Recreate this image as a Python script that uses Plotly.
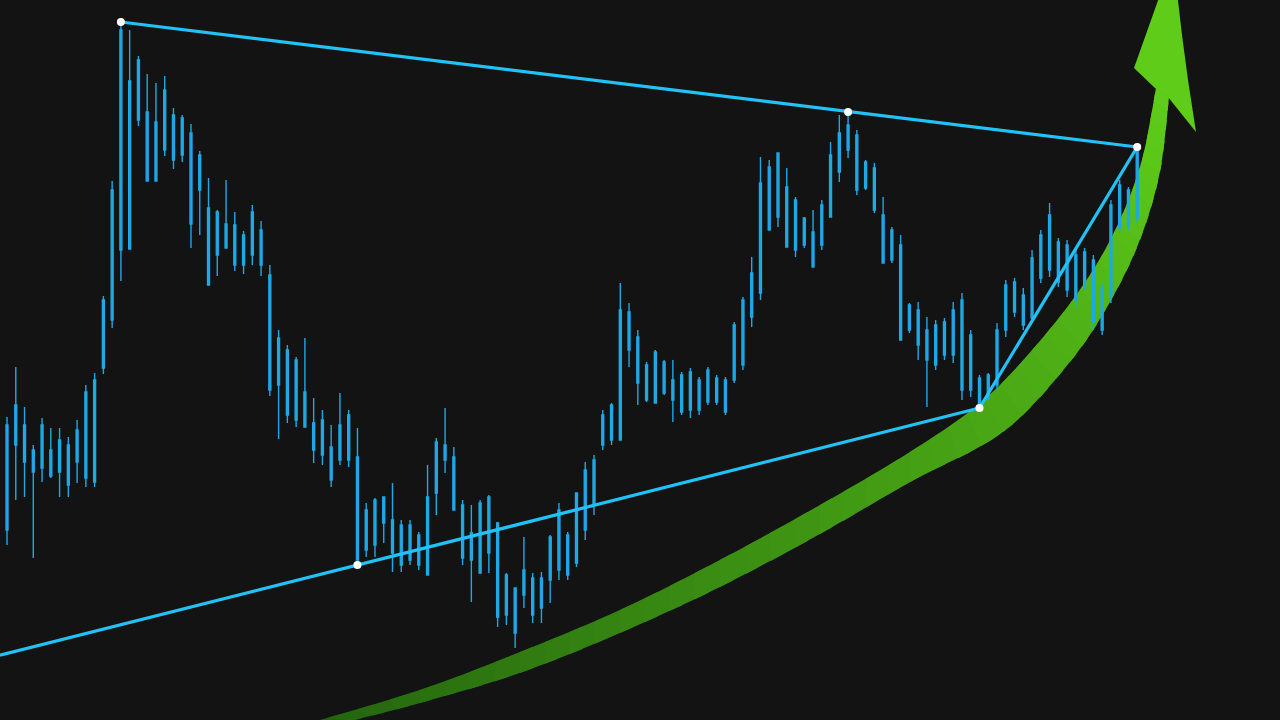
import numpy as np
import plotly.graph_objects as go

# ---------------- data (price levels) ----------------
high = [303, 353, 313, 275, 302, 292, 292, 283, 300, 335, 347, 424, 539, 698, 690, 664, 646, 637, 644, 612,
        605, 596, 569, 542, 510, 540, 508, 489, 515, 499, 455, 390, 375, 363, 382, 322, 310, 295, 327, 310,
        292, 217, 222, 223, 237, 200, 200, 188, 255, 282, 312, 273, 220, 215, 220, 225, 198, 147, 132, 183,
        147, 148, 185, 217, 188, 227, 258, 265, 310, 317, 437, 417, 390, 358, 370, 360, 360, 348, 352, 343,
        353, 345, 343, 398, 423, 463, 563, 560, 567, 552, 523, 503, 510, 520, 578, 605, 608, 590, 560, 557,
        523, 493, 485, 417, 418, 403, 400, 402, 418, 427, 390, 345, 347, 397, 440, 442, 432, 470, 490, 517,
        482, 480, 470, 472, 465, 437, 520, 540, 533, 573]
low = [175, 220, 223, 162, 238, 242, 223, 223, 237, 233, 233, 346, 392, 439, 471, 594, 539, 539, 564, 551,
       558, 472, 485, 435, 444, 472, 449, 446, 455, 444, 324, 281, 297, 293, 293, 257, 255, 233, 255, 253,
       155, 163, 163, 177, 148, 148, 155, 150, 145, 205, 247, 210, 155, 118, 147, 147, 93, 95, 72, 112,
       97, 97, 117, 140, 140, 153, 180, 205, 270, 275, 280, 353, 315, 318, 317, 325, 298, 305, 302, 305,
       315, 315, 305, 337, 350, 393, 420, 490, 493, 473, 463, 472, 453, 470, 503, 538, 562, 525, 530, 507,
       457, 457, 380, 387, 360, 313, 350, 360, 357, 320, 323, 312, 320, 330, 383, 403, 390, 397, 437, 443,
       433, 423, 413, 430, 390, 385, 417, 487, 490, 497]
open_ = [190, 275, 295, 270, 252, 270, 248, 275, 258, 242, 238, 352, 400, 470, 639, 600, 608, 539, 570, 605,
         565, 587, 530, 512, 465, 496, 455, 485, 465, 490, 445, 335, 370, 300, 328, 270, 300, 240, 260, 305,
         263, 170, 175, 223, 167, 195, 160, 185, 145, 227, 260, 263, 215, 160, 147, 223, 197, 105, 132, 125,
         142, 112, 140, 150, 185, 157, 190, 215, 275, 280, 280, 408, 383, 355, 317, 358, 340, 308, 348, 310,
         318, 342, 308, 340, 355, 403, 427, 553, 503, 533, 520, 475, 488, 475, 503, 548, 570, 585, 558, 552,
         505, 490, 475, 390, 410, 390, 355, 365, 365, 420, 385, 342, 322, 335, 390, 408, 425, 402, 442, 450,
         478, 475, 465, 435, 460, 432, 425, 492, 530, 502]
close = [295, 315, 258, 248, 295, 244, 280, 235, 290, 328, 340, 420, 530, 690, 471, 660, 539, 598, 630, 560,
         602, 496, 565, 435, 508, 472, 495, 455, 508, 455, 330, 382, 305, 360, 293, 297, 265, 273, 295, 260,
         160, 210, 220, 197, 200, 155, 195, 155, 223, 278, 275, 210, 162, 187, 217, 167, 103, 145, 87, 150,
         105, 142, 183, 210, 145, 227, 250, 260, 305, 315, 410, 370, 337, 320, 368, 327, 320, 345, 310, 340,
         350, 318, 340, 395, 420, 447, 537, 490, 567, 473, 470, 502, 453, 515, 565, 587, 595, 530, 532, 510,
         457, 460, 380, 415, 375, 360, 395, 398, 410, 330, 330, 315, 345, 390, 435, 438, 395, 462, 485, 505,
         438, 430, 420, 468, 398, 390, 515, 535, 495, 570]
candle_idx = list(range(len(high)))

# pivots that the drawn trend lines join (candle numbers)
upper_pivots = [13, 96, 129]     # swing highs on the falling resistance
lower_pivots = [40, 111]         # swing lows on the rising support
breakout_pivots = [111, 129]     # low -> final high

# ---------------- styling ----------------
BG = "#131313"
CANDLE = "#1ea8e6"
TREND = "#22c2f6"
X_RANGE = [-0.8, 145.3]
Y_RANGE = [0, 720]

# decorative green arrow, in a 1280 x 720 canvas (y grows downward)
arrow_upper_edge = [(306, 724), (420, 690), (520, 652), (620, 610), (720, 560), (820, 505), (910, 452),
                    (984, 400), (1045, 335), (1090, 275), (1120, 220), (1142, 160), (1156, 88)]
arrow_lower_edge = [(338, 724), (420, 703), (520, 673), (620, 633), (720, 587), (820, 534), (910, 482),
                    (1003, 432), (1070, 362), (1110, 302), (1140, 240), (1160, 172), (1169, 97)]
arrow_head = [(1155, 88), (1134, 68), (1161, -8), (1177, -8), (1182, 35), (1188, 80),
              (1196, 132), (1168, 97)]
GREEN_START = (0x22, 0x62, 0x0e)
GREEN_END = (0x5e, 0xcc, 0x18)


def smooth(pts, per=16):
    p = np.array(pts, float)
    p = np.vstack([p[0], p, p[-1]])
    out = []
    for i in range(1, len(p) - 2):
        p0, p1, p2, p3 = p[i - 1], p[i], p[i + 1], p[i + 2]
        for t in np.linspace(0, 1, per, endpoint=False):
            t2, t3 = t * t, t * t * t
            out.append(0.5 * ((2 * p1) + (-p0 + p2) * t + (2 * p0 - 5 * p1 + 4 * p2 - p3) * t2
                              + (-p0 + 3 * p1 - 3 * p2 + p3) * t3))
    out.append(p[-2])
    return np.array(out)


def mix(c0, c1, f):
    return "rgb(%d,%d,%d)" % tuple(int(round(a + (b - a) * f)) for a, b in zip(c0, c1))


fig = go.Figure()

# green arrow body, split into overlapping slices for a gradient
up = smooth(arrow_upper_edge)
lo = smooth(arrow_lower_edge)
m = len(up)
nseg = 48
for k in range(nseg):
    i0 = k * (m - 1) // nseg
    i1 = min(m, (k + 1) * (m - 1) // nseg + 3)
    poly = np.vstack([up[i0:i1], lo[i0:i1][::-1]])
    col = mix(GREEN_START, GREEN_END, (k / (nseg - 1)) ** 0.8)
    fig.add_trace(go.Scatter(x=poly[:, 0], y=poly[:, 1], mode="lines", fill="toself",
                             fillcolor=col, line=dict(width=0),
                             hoverinfo="skip", showlegend=False, xaxis="x", yaxis="y"))
head = np.array(arrow_head + [arrow_head[0]], float)
fig.add_trace(go.Scatter(x=head[:, 0], y=head[:, 1], mode="lines", fill="toself",
                         fillcolor=mix(GREEN_START, GREEN_END, 1.0), line=dict(width=0),
                         hoverinfo="skip", showlegend=False, xaxis="x", yaxis="y"))

# candles
fig.add_trace(go.Candlestick(
    x=candle_idx, open=open_, high=high, low=low, close=close,
    increasing=dict(line=dict(color=CANDLE, width=1.4), fillcolor=CANDLE),
    decreasing=dict(line=dict(color=CANDLE, width=1.4), fillcolor=CANDLE),
    whiskerwidth=0, showlegend=False, xaxis="x2", yaxis="y2", hoverinfo="skip"))

# resistance line
ux = [upper_pivots[0], upper_pivots[-1]]
uy = [high[upper_pivots[0]], high[upper_pivots[-1]]]
fig.add_trace(go.Scatter(x=ux, y=uy, mode="lines", line=dict(color=TREND, width=3.2),
                         hoverinfo="skip", showlegend=False, xaxis="x2", yaxis="y2"))
# support line, extended to the left edge
a, b = lower_pivots
slope = (low[b] - low[a]) / (b - a)
sx = [X_RANGE[0], b]
sy = [low[a] + slope * (X_RANGE[0] - a), low[b]]
fig.add_trace(go.Scatter(x=sx, y=sy, mode="lines", line=dict(color=TREND, width=3.2),
                         hoverinfo="skip", showlegend=False, xaxis="x2", yaxis="y2"))
# breakout leg
fig.add_trace(go.Scatter(x=breakout_pivots, y=[low[breakout_pivots[0]], high[breakout_pivots[1]]],
                         mode="lines", line=dict(color=TREND, width=3.2),
                         hoverinfo="skip", showlegend=False, xaxis="x2", yaxis="y2"))
# pivot dots
dx = upper_pivots + lower_pivots
dy = [high[i] for i in upper_pivots] + [low[i] for i in lower_pivots]
fig.add_trace(go.Scatter(x=dx, y=dy, mode="markers", marker=dict(color="white", size=8),
                         hoverinfo="skip", showlegend=False, xaxis="x2", yaxis="y2"))

ax = dict(visible=False, showgrid=False, zeroline=False, fixedrange=True)
fig.update_layout(
    width=1280, height=720, margin=dict(l=0, r=0, t=0, b=0),
    paper_bgcolor=BG, plot_bgcolor=BG, showlegend=False, boxgap=0.68,
    xaxis=dict(range=[0, 1280], **ax),
    yaxis=dict(range=[720, 0], **ax),
    xaxis2=dict(range=X_RANGE, overlaying="x", rangeslider=dict(visible=False), **ax),
    yaxis2=dict(range=Y_RANGE, overlaying="y", **ax),
)

fig.write_html("out.html", config={"displayModeBar": False, "staticPlot": True},
               post_script="document.body.style.margin='0';document.body.style.background='%s';"
                           "document.body.style.overflow='hidden';" % BG)
